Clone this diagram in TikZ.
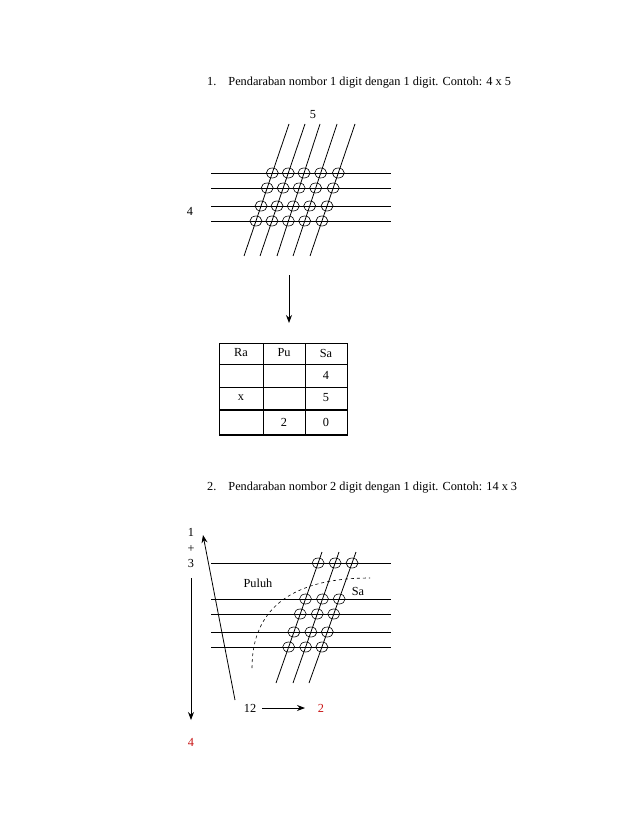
\documentclass[tikz,border=0pt]{standalone}
\usepackage{fontspec}
\setmainfont{Liberation Serif}
\usetikzlibrary{shapes.geometric,arrows.meta}
\begin{document}
\begin{tikzpicture}[x=1pt,y=-1pt,font=\fontsize{12.3}{14}\selectfont,
  ln/.style={line width=0.8pt},
  arr/.style={ln,-{Stealth[length=8pt,width=6pt]}},
  ov/.style={draw,ellipse,minimum width=12pt,minimum height=10pt,inner sep=0pt,line width=0.6pt},
  lbl/.style={inner sep=0pt},
  red/.style={text={rgb,255:red,200;green,20;blue,20}}]
\useasboundingbox (0,0) rectangle (638,826);
\node[lbl,anchor=west] (t1) at (207,83) {1.\hspace{12pt}Pendaraban nombor 1 digit dengan 1 digit. Contoh: 4 x 5};
\node[lbl] (n5) at (313,115) {5};
\node[lbl] (n4) at (190,211) {4};
% lattice 1
\foreach \y/\i in {173/1,188/2,206/3,221/4}{
  \coordinate (hl\i) at (211,\y); \coordinate (hr\i) at (391,\y);
  \draw[ln] (hl\i) -- (hr\i);}
\foreach \xt/\xb/\j in {289/244/1,305/260/2,320/277/3,337/293/4,355/310/5}{
  \coordinate (vt\j) at (\xt,124); \coordinate (vb\j) at (\xb,256);
  \draw[ln] (vt\j) -- (vb\j);
  \foreach \y in {173,188,206,221}{
    \pgfmathsetmacro\xx{\xt+(\xb-\xt)*(\y-124)/132}
    \node[ov] (o\j-\y) at (\xx,\y) {};}}
\coordinate (a1) at (289,275); \coordinate (a2) at (289,323);
\draw[arr] (a1) -- (a2);
% table
\draw[line width=0.6pt] (219,343) rectangle (347,435);
\foreach \x in {263,305} \draw[line width=0.6pt] (\x,343) -- (\x,435);
\foreach \y in {364,387} \draw[line width=0.6pt] (219,\y) -- (347,\y);
\draw[line width=2.5pt] (219,410) -- (347,410);
\draw[line width=2.5pt] (219,435) -- (347,435);
\node[lbl] (ra) at (241,353) {Ra};
\node[lbl] (pu) at (284,353) {Pu};
\node[lbl] (sa) at (326,353) {Sa};
\node[lbl] (c4) at (326,375) {4};
\node[lbl] (cx) at (241,398) {x};
\node[lbl] (c5) at (326,398) {5};
\node[lbl] (c2) at (284,422) {2};
\node[lbl] (c0) at (326,422) {0};
% part 2
\node[lbl,anchor=west] (t2) at (207,488) {2.\hspace{12pt}Pendaraban nombor 2 digit dengan 1 digit. Contoh: 14 x 3};
\foreach \y/\i in {563/1,599/2,614/3,632/4,647/5}{
  \coordinate (gl\i) at (211,\y); \coordinate (gr\i) at (391,\y);
  \draw[ln] (gl\i) -- (gr\i);}
\foreach \xt/\xb/\j in {322/276/1,339/293/2,356/309/3}{
  \coordinate (wt\j) at (\xt,552); \coordinate (wb\j) at (\xb,683);
  \draw[ln] (wt\j) -- (wb\j);
  \foreach \y in {563,599,614,632,647}{
    \pgfmathsetmacro\xx{\xt+(\xb-\xt)*(\y-552)/131}
    \node[ov] (p\j-\y) at (\xx,\y) {};}}
\coordinate (d1) at (252,668); \coordinate (d2) at (370,578);
\draw[dashed,line width=0.6pt] (d1) .. controls (252,610) and (290,578) .. (d2);
\node[lbl] (puluh) at (258,583) {Puluh};
\node[lbl] (sa2) at (358,591) {Sa};
\coordinate (l1) at (235,700); \coordinate (l2) at (203,535);
\draw[arr] (l1) -- (l2);
\node[lbl] (d1t) at (191,532) {1};
\node[lbl] (dp) at (191,549) {+};
\node[lbl] (d3) at (191,563) {3};
\coordinate (b1) at (191,578); \coordinate (b2) at (191,720);
\draw[arr] (b1) -- (b2);
\node[lbl,red] (d4) at (191,742) {4};
\node[lbl] (n12) at (250,708) {12};
\node[lbl,red] (n2) at (321,708) {2};
\coordinate (e1) at (262,708); \coordinate (e2) at (305,708);
\draw[arr] (e1) -- (e2);
\end{tikzpicture}
\end{document}
